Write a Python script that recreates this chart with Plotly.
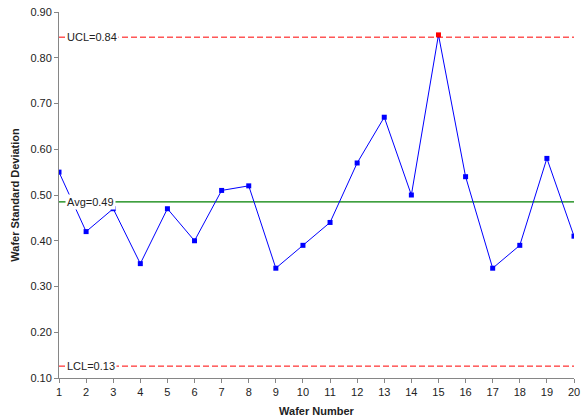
import plotly.graph_objects as go

wafers = list(range(1, 21))
std_dev = [0.55, 0.42, 0.47, 0.35, 0.47, 0.40, 0.51, 0.52, 0.34, 0.39,
           0.44, 0.57, 0.67, 0.50, 0.85, 0.54, 0.34, 0.39, 0.58, 0.41]
ucl = 0.845
avg = 0.485
lcl = 0.126
ucl_label = "UCL=0.84"
avg_label = "Avg=0.49"
lcl_label = "LCL=0.13"

marker_colors = ["red" if v > ucl or v < lcl else "blue" for v in std_dev]

FAM = "Liberation Sans, Arial, sans-serif"

fig = go.Figure()
fig.add_trace(go.Scatter(x=wafers, y=[ucl] * len(wafers), mode="lines",
                         line=dict(color="red", width=1, dash="6px,3px"), hoverinfo="skip"))
fig.add_trace(go.Scatter(x=wafers, y=[lcl] * len(wafers), mode="lines",
                         line=dict(color="red", width=1, dash="6px,3px"), hoverinfo="skip"))
fig.add_trace(go.Scatter(x=wafers, y=[avg] * len(wafers), mode="lines",
                         line=dict(color="green", width=1.2), hoverinfo="skip"))
fig.add_trace(go.Scatter(x=wafers, y=std_dev, mode="lines+markers",
                         line=dict(color="blue", width=1),
                         marker=dict(symbol="square", size=5, color=marker_colors)))

font = dict(family=FAM, size=11, color="#222")
for val, lab in [(ucl, ucl_label), (avg, avg_label), (lcl, lcl_label)]:
    fig.add_annotation(x=0.011, xref="paper", y=val, yref="y", text=lab,
                       showarrow=False, xanchor="left", yanchor="middle",
                       bgcolor="white", font=font, borderpad=1)

fig.update_layout(
    width=585, height=418,
    margin=dict(l=59, r=11, t=12, b=40),
    paper_bgcolor="white", plot_bgcolor="white",
    showlegend=False, font=font,
    xaxis=dict(range=[1, 20], tickmode="array", tickvals=wafers,
               automargin=False,
               showline=True, linecolor="#868686", linewidth=1,
               ticks="outside", ticklen=4, tickcolor="#868686",
               showgrid=False, zeroline=False,
               title=dict(text="<b>Wafer Number</b>", standoff=10,
                          font=dict(family=FAM, size=11, color="#222"))),
    yaxis=dict(range=[0.10, 0.90], tickmode="array",
               tickvals=[0.1, 0.2, 0.3, 0.4, 0.5, 0.6, 0.7, 0.8, 0.9],
               tickformat=".2f", automargin=False,
               showline=True, linecolor="#868686", linewidth=1,
               ticks="outside", ticklen=4, tickcolor="#868686",
               showgrid=False, zeroline=False,
               title=dict(text="<b>Wafer Standard Deviation</b>", standoff=8,
                          font=dict(family=FAM, size=11, color="#222"))),
)

fig.write_html("out.html")
